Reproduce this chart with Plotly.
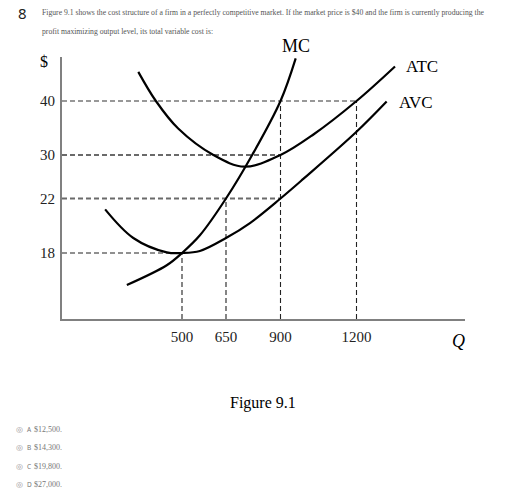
import numpy as np
import plotly.graph_objects as go

# ---------------- data (economic units) ----------------
Q_TICKS = [500, 650, 900, 1200]
Q_LABELS = ["500", "650", "900", "1200"]
P_TICKS = [18, 22, 30, 40]
P_LABELS = ["18", "22", "30", "40"]

MC_Q = [312, 448, 500, 561, 650, 770, 900, 960]
MC_P = [15.65, 17.1, 18.0, 19.3, 22.0, 30.0, 40.0, 47.9]

ATC_Q = [351, 411, 487, 607, 735, 900, 1030, 1200, 1352]
ATC_P = [45.4, 40.0, 34.9, 30.0, 27.85, 30.0, 33.8, 40.0, 46.4]

AVC_Q = [238, 334, 448, 500, 561, 650, 760, 900, 990, 1200, 1319]
AVC_P = [21.2, 19.1, 18.05, 18.0, 18.15, 19.1, 20.2, 22.0, 25.6, 34.3, 39.9]

# guide lines: horizontal (price, end quantity) and vertical (quantity, top price)
H_GUIDE_P = [40, 30, 22, 18]
H_GUIDE_Q_END = [1200, 900, 900, 500]
V_GUIDE_Q = [500, 650, 900, 1200]
V_GUIDE_P_TOP = [18, 22, 40, 40]

QUESTION = ("Figure 9.1 shows the cost structure of a firm in a perfectly competitive market. "
            "If the market price is $40 and the firm is currently producing the")
QUESTION2 = "profit maximizing output level, its total variable cost is:"
OPTION_LETTERS = ["A", "B", "C", "D"]
OPTION_TEXT = ["$12,500.", "$14,300.", "$19,800.", "$27,000."]

# ---------------- diagram (not-to-scale) axis layout ----------------
W, H = 515, 500
ML, MR, MT, MB = 62, 50, 57, 181
PW, PH = W - ML - MR, H - MT - MB
Q_TICK_POS = [120, 164, 218.5, 294.5]   # where the schematic places the Q ticks
P_TICK_POS = [66, 120.5, 164, 218]      # where the schematic places the $ ticks


def warp(v, ticks, pos):
    v = np.asarray(v, dtype=float)
    t = np.asarray(ticks, dtype=float)
    p = np.asarray(pos, dtype=float)
    out = np.interp(v, t, p)
    lo, hi = v < t[0], v > t[-1]
    out[lo] = p[0] + (v[lo] - t[0]) * (p[1] - p[0]) / (t[1] - t[0])
    out[hi] = p[-1] + (v[hi] - t[-1]) * (p[-1] - p[-2]) / (t[-1] - t[-2])
    return out


def wq(v):
    return warp(v, Q_TICKS, Q_TICK_POS)


def wp(v):
    return warp(v, P_TICKS, P_TICK_POS)


SERIF = "Liberation Serif, Times New Roman, serif"
fig = go.Figure()

# guide lines
h_styles = {40: ("#333333", 1.2), 30: ("#6a6a6a", 1.8), 22: ("#6a6a6a", 1.8), 18: ("#222222", 1.1)}
for p, qe in zip(H_GUIDE_P, H_GUIDE_Q_END):
    col, wdt = h_styles[p]
    fig.add_trace(go.Scatter(x=[0, float(wq([qe])[0])], y=[float(wp([p])[0])] * 2, mode="lines",
                             line=dict(color=col, width=wdt, dash="5px,3px"),
                             hoverinfo="skip", showlegend=False))
for q, pt in zip(V_GUIDE_Q, V_GUIDE_P_TOP):
    fig.add_trace(go.Scatter(x=[float(wq([q])[0])] * 2, y=[0, float(wp([pt])[0])], mode="lines",
                             line=dict(color="#222222", width=1.1, dash="5px,3px"),
                             hoverinfo="skip", showlegend=False))

# cost curves
for qs, ps, name in [(MC_Q, MC_P, "MC"), (ATC_Q, ATC_P, "ATC"), (AVC_Q, AVC_P, "AVC")]:
    fig.add_trace(go.Scatter(x=wq(qs), y=wp(ps), mode="lines", name=name,
                             line=dict(color="black", width=2.2, shape="spline", smoothing=1.0),
                             showlegend=False))


def px(xp):
    return (xp - ML) / PW


def py(yp):
    return (H - MB - yp) / PH


ann = []


def label(x, y, text, size, font=SERIF, color="black", xanchor="center", yanchor="middle"):
    ann.append(dict(x=px(x), y=py(y), xref="paper", yref="paper", text=text, showarrow=False,
                    font=dict(family=font, size=size, color=color), xanchor=xanchor, yanchor=yanchor))


label(296, 46, "MC", 18)
label(404, 67, "ATC", 17, xanchor="left")
label(397, 102, "AVC", 17, xanchor="left")
label(44, 62, "$", 16)
label(458, 341, "<i>Q</i>", 18)
label(263, 403, "Figure 9.1", 16)

label(22, 13, "8", 15, font="Noto Sans, DejaVu Sans, sans-serif", color="#222222")
label(40, 13, QUESTION, 7.7, color="#555555", xanchor="left")
label(40, 32, QUESTION2, 7.7, color="#555555", xanchor="left")

opt_y = [429, 447.5, 466, 484.5]
for yy, let, txt in zip(opt_y, OPTION_LETTERS, OPTION_TEXT):
    label(19, yy, "◎", 8, font="DejaVu Sans, sans-serif", color="#999999")
    label(25, yy, let, 6.5, font="Noto Sans, DejaVu Sans, sans-serif", color="#777777", xanchor="left")
    label(32, yy, txt, 8, color="#777777", xanchor="left")

fig.update_layout(
    width=W, height=H, margin=dict(l=ML, r=MR, t=MT, b=MB),
    paper_bgcolor="white", plot_bgcolor="white",
    annotations=ann, hovermode=False,
    xaxis=dict(range=[0, PW], showgrid=False, zeroline=False, showline=True,
               linecolor="#808080", linewidth=2, tickvals=wq(Q_TICKS), ticktext=Q_LABELS,
               ticks="", ticklabelstandoff=3,
               tickfont=dict(family=SERIF, size=15, color="#222222"), fixedrange=True),
    yaxis=dict(range=[0, PH], showgrid=False, zeroline=False, showline=True,
               linecolor="#808080", linewidth=2, tickvals=wp(P_TICKS), ticktext=P_LABELS,
               ticks="", ticklabelstandoff=2,
               tickfont=dict(family=SERIF, size=15, color="#222222"), fixedrange=True),
)

fig.write_html("out.html", config={"displayModeBar": False, "staticPlot": True},
               post_script="document.body.style.margin='0';")
